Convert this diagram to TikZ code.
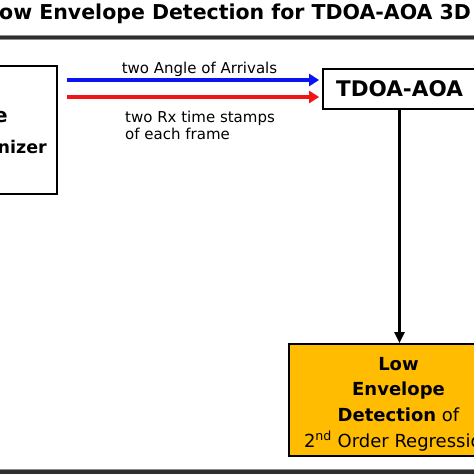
\documentclass[tikz,border=0pt]{standalone}
\usepackage{fontspec}
\setmainfont{DejaVu Sans}
\usetikzlibrary{arrows.meta,calc}
\definecolor{gold}{HTML}{FFBC00}
\definecolor{rulegray}{HTML}{2E2E2E}
\definecolor{arrblue}{HTML}{0A14F0}
\definecolor{arrred}{HTML}{F01414}
\begin{document}
\begin{tikzpicture}[x=1pt,y=-1pt,
  box/.style={draw=black,line width=1.8pt,inner sep=0pt},
  lbl/.style={inner sep=0pt,font=\fontsize{15}{17}\selectfont},
  flowarrow/.style={line width=3.5pt,-{Triangle[length=10pt,width=12pt]}},
  downarrow/.style={line width=2.8pt,-{Triangle[length=11pt,width=10pt]}},
  rulebar/.style={fill=rulegray}
]
\useasboundingbox (0,0) rectangle (474,474);
\clip (0,0) rectangle (474,474);
\fill[white] (0,0) rectangle (474,474);

% title and rules
\node[anchor=base west,inner sep=0pt,font=\bfseries\fontsize{20.5}{24}\selectfont] (title) at (-1,19) {ow Envelope Detection for TDOA-AOA 3D};
\fill[black!45] (0,34.5) rectangle (474,40);
\fill[rulegray] (0,35.5) rectangle (474,39);
\fill[black!45] (0,468.5) rectangle (474,474);
\fill[rulegray] (0,469.5) rectangle (474,474);

% left box (mostly outside the frame)
\node[box,minimum width=120pt,minimum height=128pt] (sync) at (-3,130) {};
\node[anchor=base east,inner sep=0pt,font=\bfseries\fontsize{20}{24}\selectfont] (syncA) at (8,122) {e};
\node[anchor=base east,inner sep=0pt,font=\bfseries\fontsize{17.5}{24}\selectfont] (syncB) at (47,153) {nizer};

% TDOA-AOA box
\node[box,minimum width=153pt,minimum height=40pt,font=\bfseries\fontsize{21.5}{24}\selectfont] (tdoa) at (399.5,89) {TDOA-AOA};

% Low envelope box
\node[box,fill=gold,minimum width=221pt,minimum height=112pt] (low) at (399.5,400) {};
\node[align=center,inner sep=0pt,font=\fontsize{18}{25.7}\selectfont] (lowtext) at (398.5,404)
  {\textbf{Low}\\\textbf{Envelope}\\\textbf{Detection} of\\2\textsuperscript{nd} Order Regression};

% arrows
\coordinate (bstart) at (67,80);
\coordinate (rstart) at (67,97);
\draw[flowarrow,arrblue,shorten >=3pt] (bstart) -- (bstart -| tdoa.west);
\draw[flowarrow,arrred,shorten >=3pt] (rstart) -- (rstart -| tdoa.west);
\draw[downarrow] (tdoa.south) -- (low.north);

% labels
\node[lbl,anchor=base] (lblA) at (199.5,73) {two Angle of Arrivals};
\node[lbl,anchor=base west] (lblB1) at (125,122) {two Rx time stamps};
\node[lbl,anchor=base west] (lblB2) at (125,139) {of each frame};
\end{tikzpicture}
\end{document}
